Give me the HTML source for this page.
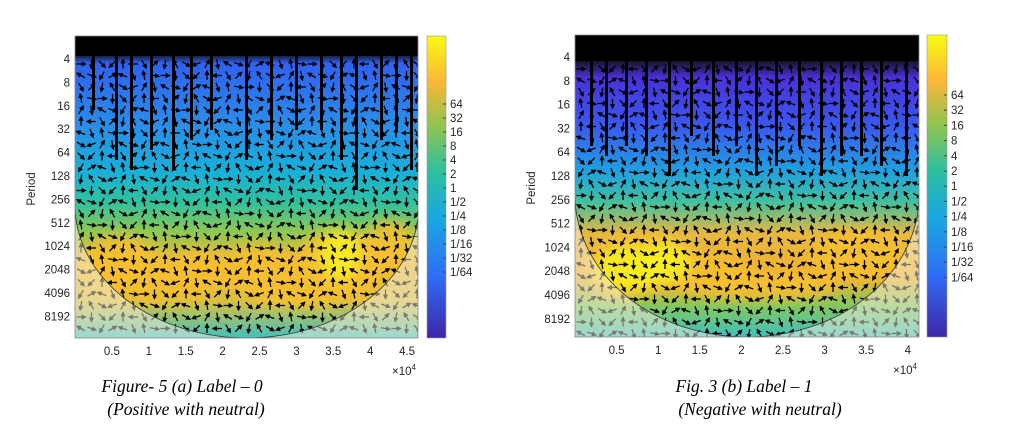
<!DOCTYPE html>
<html><head><meta charset="utf-8"><style>
body{margin:0;background:#fff;width:1027px;height:441px;overflow:hidden}
svg{display:block}
.t{font-family:"Liberation Sans",sans-serif;font-size:11.5px;fill:#262626}
.cap{font-family:"Liberation Serif",serif;font-style:italic;font-size:17.5px;fill:#000}
</style></head><body>
<svg id="s" width="1027" height="441">
<defs>
<linearGradient id="gL" x1="0" y1="0" x2="0" y2="1">
<stop offset="0" stop-color="#000"/><stop offset="0.06" stop-color="#111"/><stop offset="0.09" stop-color="#3060f0"/>
<stop offset="0.3" stop-color="#2a8ee8"/><stop offset="0.45" stop-color="#18b0d8"/><stop offset="0.55" stop-color="#30c0a0"/>
<stop offset="0.65" stop-color="#90c850"/><stop offset="0.75" stop-color="#f0b838"/><stop offset="0.88" stop-color="#d8c040"/><stop offset="1" stop-color="#40c0c0"/></linearGradient>
<linearGradient id="gR" x1="0" y1="0" x2="0" y2="1">
<stop offset="0" stop-color="#000"/><stop offset="0.08" stop-color="#111"/><stop offset="0.14" stop-color="#4a30d8"/>
<stop offset="0.3" stop-color="#3a58f0"/><stop offset="0.45" stop-color="#20a0e0"/><stop offset="0.55" stop-color="#40c0a0"/>
<stop offset="0.66" stop-color="#e8b840"/><stop offset="0.8" stop-color="#f0b030"/><stop offset="0.9" stop-color="#80c860"/><stop offset="1" stop-color="#40c0c0"/></linearGradient>
<linearGradient id="cb" x1="0" y1="1" x2="0" y2="0">
<stop offset="0" stop-color="#3e26a8"/><stop offset="0.2" stop-color="#2f6cf5"/><stop offset="0.4" stop-color="#1aa8e0"/><stop offset="0.55" stop-color="#2ebfa0"/>
<stop offset="0.7" stop-color="#8ec450"/><stop offset="0.85" stop-color="#fbb738"/><stop offset="1" stop-color="#f9fb14"/></linearGradient>
<filter id="bl"><feGaussianBlur stdDeviation="6"/></filter>
<clipPath id="cL"><rect x="75" y="36" width="343" height="302"/></clipPath>
<clipPath id="cR"><rect x="575" y="35" width="344" height="302"/></clipPath>
<marker id="ah" markerWidth="4" markerHeight="4" refX="3" refY="2" orient="auto"><path d="M0,0L4,2L0,4z" fill="#000"/></marker>
</defs>
</svg>
<script>
const NS="http://www.w3.org/2000/svg";
const svg=document.getElementById('s');
// data arrays
const periodTicks=["4","8","16","32","64","128","256","512","1024","2048","4096","8192"];
const xTicksL=[0.5,1,1.5,2,2.5,3,3.5,4,4.5];
const xTicksR=[0.5,1,1.5,2,2.5,3,3.5,4];
const cbTicks=["64","32","16","8","4","2","1","1/2","1/4","1/8","1/16","1/32","1/64"];
const phaseAngles=[0,90,45,135,-90,180,60,-45,100,-120,30,160,-60,80,-150,20,120,-30,200,70,-100,10];
const streaksL=[[92,90],[115,140],[130,150],[150,130],[172,150],[190,120],[210,110],[245,140],[270,120],[295,110],[320,110],[340,140],[355,170],[380,120],[395,110],[410,150]];
const streaksR=[[590,120],[605,130],[625,120],[645,130],[668,150],[690,110],[712,130],[735,120],[755,150],[775,140],[798,120],[820,150],[840,130],[860,130],[880,140],[905,150]];
const blobsL=[[120,265,40,30],[200,270,30,20],[260,270,40,25],[340,265,45,35],[390,245,25,25],[160,280,60,20],[300,290,50,15]];
const blobsR=[[640,265,50,30],[620,275,30,25],[700,275,50,20],[860,255,50,25],[760,285,80,15]];
const yellowR=[[630,268,35,22],[665,262,25,20]];
const yellowL=[[340,255,20,25]];

function el(t,a,p){const e=document.createElementNS(NS,t);for(const k in a)e.setAttribute(k,a[k]);(p||svg).appendChild(e);return e;}

function panel(o){
  const g=el('g',{'clip-path':`url(#${o.clip})`});
  
  
  el('rect',{x:o.x0,y:o.y0,width:o.w,height:o.h,fill:`url(#${o.grad})`},g);
  const bg=el('g',{filter:'url(#bl)'},g);
  o.blobs.forEach(b=>el('ellipse',{cx:b[0],cy:b[1],rx:b[2],ry:b[3],fill:'#f8c030','opacity':0.85},bg));
  o.yellow.forEach(b=>el('ellipse',{cx:b[0],cy:b[1],rx:b[2],ry:b[3],fill:'#f8f020','opacity':0.9},bg));
  el('rect',{x:o.x0,y:o.y0,width:o.w,height:o.topBlack,fill:'#000'},g);
  o.streaks.forEach(s=>{const r=el('rect',{x:s[0],y:o.y0,width:3,height:s[1]-o.y0+o.topBlack,fill:'#000'},g);
    });
  let i=0;
  for(let y=o.y0+o.topBlack+8;y<o.y0+o.h;y+=11.5){
    for(let x=o.x0+6;x<o.x0+o.w;x+=10.5){
      const a=phaseAngles[(i++)%phaseAngles.length]*Math.PI/180;
      const dx=Math.cos(a)*4.5,dy=Math.sin(a)*4.5;
      el('line',{x1:x-dx,y1:y-dy,x2:x+dx,y2:y+dy,stroke:'#000','stroke-width':1.3,'marker-end':'url(#ah)'},g);
    }
    i+=3;
  }
  const cx=o.coi[0],cy=o.coi[1],rx=o.coi[2],ry=o.coi[3];
  const d=`M${o.x0},${cy} L${o.x0},${o.y0+o.h} L${o.x0+o.w},${o.y0+o.h} L${o.x0+o.w},${cy} L${cx+rx},${cy} A${rx},${ry} 0 0 1 ${cx-rx},${cy} Z`;
  const c=el('path',{d,fill:'#f4f0e0',opacity:0.5},g);
  
  el('path',{d:`M${cx+rx},${cy} A${rx},${ry} 0 0 1 ${cx-rx},${cy}`,fill:'none',stroke:'#333','stroke-width':0.8},g);
  const fr=el('rect',{x:o.x0,y:o.y0,width:o.w,height:o.h,fill:'none',stroke:'#888','stroke-width':0.8});
  
  periodTicks.forEach((p,k)=>{const y=o.yt0+k*o.ytd;
    const t=el('text',{x:o.x0-5,y:y+4,'text-anchor':'end',class:'t'});t.textContent=p;
    });
  const yl=el('text',{x:0,y:0,class:'t',transform:`translate(${o.x0-40},${(o.y0+o.h/2)+2}) rotate(-90)`,'text-anchor':'middle'});
  yl.textContent='Period';
  o.xt.forEach(v=>{const x=o.x0+v/0.5*o.xd;
    const t=el('text',{x:x,y:o.y0+o.h+17,'text-anchor':'middle',class:'t'});t.textContent=String(v);
    });
  const ex=el('text',{x:o.x0+o.w-14,y:o.y0+o.h+37,'text-anchor':'middle',class:'t'});
  ex.innerHTML='×10<tspan dy="-5" font-size="8">4</tspan>';
  
  const cb=el('rect',{x:o.cbx,y:o.y0,width:o.cbw,height:o.h,fill:'url(#cb)',stroke:'#999','stroke-width':0.6});
  
  cbTicks.forEach((v,k)=>{const y=o.cb0+k*o.cbd;
    el('line',{x1:o.cbx+o.cbw-3,y1:y,x2:o.cbx+o.cbw,y2:y,stroke:'#444'});
    const t=el('text',{x:o.cbx+o.cbw+4,y:y+4,class:'t'});t.textContent=v;
    });
  o.caption.forEach((c,k)=>{const t=el('text',{x:o.capx[k],y:392+k*23,'text-anchor':'middle',class:'cap'});t.textContent=c;
    });
}
panel({name:'label-0',clip:'cL',grad:'gL',x0:75,y0:36,w:343,h:302,topBlack:20,streaks:streaksL,blobs:blobsL,yellow:yellowL,
  coi:[247,205,172,133],yt0:59,ytd:23.4,xt:xTicksL,xd:36.9,cbx:427,cbw:19,cb0:104,cbd:14,
  caption:['Figure- 5 (a) Label – 0','(Positive with neutral)'],capx:[182,186]});
panel({name:'label-1',clip:'cR',grad:'gR',x0:575,y0:35,w:344,h:302,topBlack:26,streaks:streaksR,blobs:blobsR,yellow:yellowR,
  coi:[747,195,172,142],yt0:57,ytd:23.8,xt:xTicksR,xd:41.6,cbx:927,cbw:20,cb0:95,cbd:15.2,
  caption:['Fig. 3 (b) Label – 1','(Negative with neutral)'],capx:[744,760]});
</script>
</body></html>
